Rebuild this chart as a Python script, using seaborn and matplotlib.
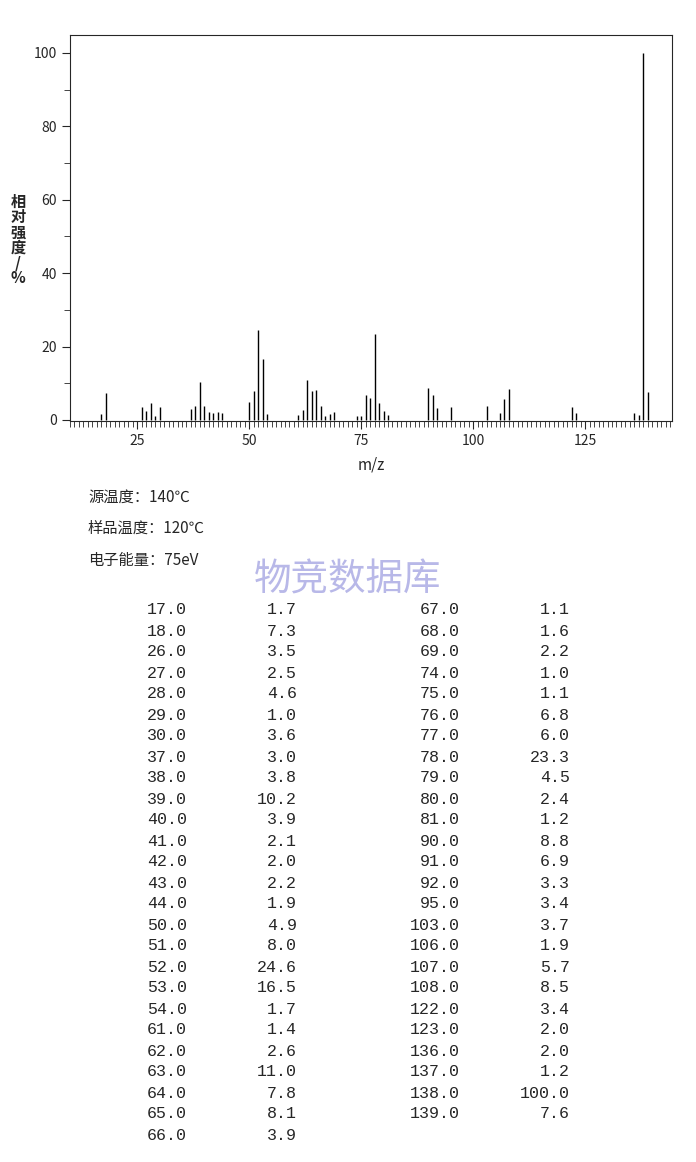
import matplotlib
matplotlib.use("Agg")
import matplotlib.pyplot as plt
import seaborn as sns
from matplotlib.ticker import MultipleLocator

sns.set_style("ticks")
plt.rcParams['font.family'] = ['Noto Sans CJK SC', 'DejaVu Sans']

mz = [17,18,26,27,28,29,30,37,38,39,40,41,42,43,44,50,51,52,53,54,61,62,63,64,65,66,
      67,68,69,74,75,76,77,78,79,80,81,90,91,92,95,103,106,107,108,122,123,136,137,138,139]
intensity = [1.7,7.3,3.5,2.5,4.6,1.0,3.6,3.0,3.8,10.2,3.9,2.1,2.0,2.2,1.9,4.9,8.0,24.6,16.5,1.7,1.4,2.6,11.0,7.8,8.1,3.9,
             1.1,1.6,2.2,1.0,1.1,6.8,6.0,23.3,4.5,2.4,1.2,8.8,6.9,3.3,3.4,3.7,1.9,5.7,8.5,3.4,2.0,2.0,1.2,100.0,7.6]
info = ["源温度：140℃", "样品温度：120℃", "电子能量：75eV"]

W, H = 696, 1162
fig = plt.figure(figsize=(W/100, H/100), dpi=100)
ax = fig.add_axes([70/W, (H-421)/H, 602/W, 386/H])
ax.vlines(mz, 0, intensity, color='black', linewidth=1)
ax.set_xlim(10, 144.4)
ax.set_ylim(-0.3, 104.9)
ax.set_xticks([25, 50, 75, 100, 125])
ax.xaxis.set_minor_locator(MultipleLocator(1))
ax.set_yticks([0, 20, 40, 60, 80, 100])
ax.yaxis.set_minor_locator(MultipleLocator(10))
ax.tick_params(axis='both', direction='out', labelsize=10, length=6, width=0.8)
ax.tick_params(which='minor', length=4, width=0.6)
for s in ax.spines.values():
    s.set_linewidth(0.8)
ax.set_xlabel("m/z", fontsize=11, labelpad=6)
fig.text(18/W, 1-240/H, "相\n对\n强\n度\n/\n%", fontsize=11, ha='center', va='center', linespacing=0.95, fontweight='bold')

for i, t in enumerate(info):
    fig.text(88/W, 1-(497+i*31.5)/H, t, fontsize=11, va='center')
fig.text(348/W, 1-580/H, "物竞数据库", fontsize=27, color='#b8b8e8', ha='center', va='center')

mono = ['Liberation Mono', 'DejaVu Sans Mono']
for i, (m, v) in enumerate(zip(mz, intensity)):
    col = 0 if i < 26 else 1
    row = i if i < 26 else i - 26
    y = 1 - (610 + row*21)/H
    x1, x2 = (187, 297) if col == 0 else (460, 570)
    fig.text(x1/W, y, f"{m:.1f}", family=mono, fontsize=12, ha='right', va='center')
    fig.text(x2/W, y, f"{v:.1f}", family=mono, fontsize=12, ha='right', va='center')

fig.savefig("out.png", dpi=100)
